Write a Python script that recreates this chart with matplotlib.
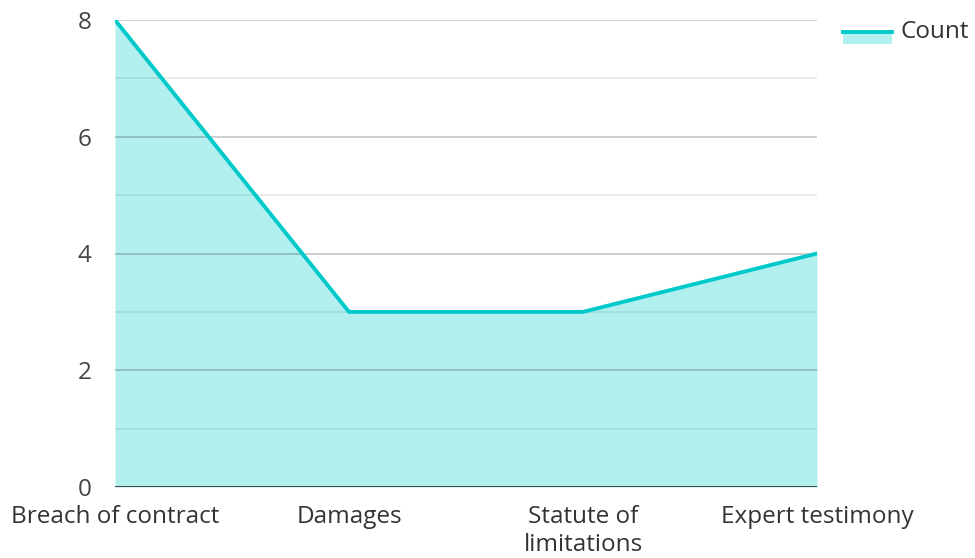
import matplotlib
matplotlib.use("Agg")
import matplotlib.pyplot as plt
from matplotlib.lines import Line2D
from matplotlib.patches import Rectangle

categories = ["Breach of contract", "Damages", "Statute of\nlimitations", "Expert testimony"]
counts = [8, 3, 3, 4]
series_name = "Count"

plt.rcParams['font.family'] = ['Open Sans', 'DejaVu Sans']

fig = plt.figure(figsize=(9.75, 5.58), dpi=100)
ax = fig.add_axes([115/975, 1-487/558, (817-115)/975, (487-20)/558])

line_c = "#00C9C9"
fill_c = "#B2EFEF"
fs = 17.5
x = list(range(len(categories)))
ax.fill_between(x, counts, 0, color=fill_c, lw=0, zorder=1)
for v in range(1, 9):
    ax.axhline(v, color="black", alpha=0.22 if v % 2 == 0 else 0.09, lw=1.2, zorder=2)
ax.plot(x, counts, color=line_c, lw=2.8, zorder=3, solid_capstyle='round')
ax.axhline(0, color="#333333", lw=2, zorder=4)

ax.set_xlim(0, len(categories)-1)
ax.set_ylim(0, 8)
ax.set_yticks([0, 2, 4, 6, 8])
ax.set_xticks(x)
ax.set_xticklabels(categories, fontsize=fs, color="#333333", va='top', linespacing=1.2)
ax.tick_params(axis='y', labelsize=fs, labelcolor="#444444", length=0, pad=17)
ax.tick_params(axis='x', length=0, pad=13)
for s in ax.spines.values():
    s.set_visible(False)

lx0, lx1 = 843/975, 892/975
fig.patches.append(Rectangle((lx0, 1-44/558), lx1-lx0, 11/558,
                   transform=fig.transFigure, facecolor=fill_c, edgecolor='none'))
fig.lines.append(Line2D([lx0, lx1], [1-32/558, 1-32/558], transform=fig.transFigure,
                        color=line_c, lw=2.8))
fig.text(901/975, 1-32/558, series_name, fontsize=fs, color="#333333", va='center', ha='left')

fig.savefig("out.png", dpi=100)
